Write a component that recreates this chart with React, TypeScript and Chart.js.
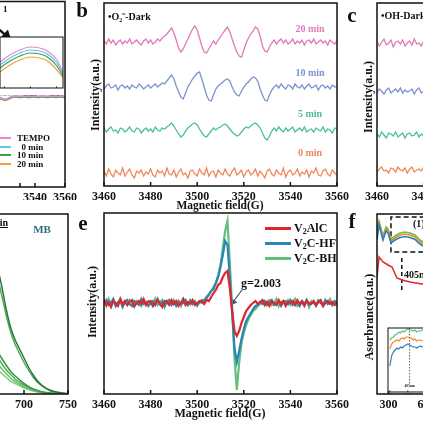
import React, { useEffect, useRef } from "react";
import { Chart, registerables } from "chart.js";

Chart.register(...registerables);

const SERIF = '"Liberation Serif", "Times New Roman", Times, serif';
const INK = "#111111";

// ---------- shared magnetic-field grid (G) ----------
const FIELD_START = 3460;
const FIELD_STEP = 1;
const FIELD_TICKS = [3460, 3480, 3500, 3520, 3540, 3560];

// ---------- (a) TEMPO signal, main spectrum (tail) ----------
const A_TICKS = [3540, 3560];
const A_MINOR_TICKS = [3530];
const A_FIELD = [3500,3502,3504,3506,3508,3510,3512,3514,3516,3518,3520,3522,3524,3526,3528,3530,3532,3534,3536,3538,3540,3542,3544,3546,3548,3550,3552,3554,3556,3558,3560];
const A_TEMPO = [93.5,93,93.5,92.5,93,93,92.5,93,92,90.5,89.5,90.5,92,93,93,92.5,93,93,92.5,93,93,92.5,93,93,92.5,93,93,92.5,93,93,92.5];
const A_0MIN = [93,92.5,93,92,92.5,92.5,92,92.5,91.5,90,89,90,91.5,92.5,92.5,92,92.5,92.5,92,92.5,92.5,92,92.5,92.5,92,92.5,92.5,92,92.5,92.5,92];
const A_10MIN = [92.5,92,92.5,91.5,92,92,91.5,92,91,89.5,88.5,89.5,91,92,92,91.5,92,92,91.5,92,92,91.5,92,92,91.5,92,92,91.5,92,92,91.5];
const A_20MIN = [92,91.5,92,91,91.5,91.5,91,91.5,90.5,89,88,89,90.5,91.5,91.5,91,91.5,91.5,91,91.5,91.5,91,91.5,91.5,91,91.5,91.5,91,91.5,91.5,91];
const A_POINTER = [{ x: 3511, y: 167 }, { x: 3521, y: 154 }];

// (a) zoomed inset
const A_ZOOM_FIELD = [3536.1, 3536.33, 3536.56, 3536.8, 3537.1, 3537.25, 3537.41, 3537.55];
const A_ZOOM_TICKS = [3536.2, 3536.8, 3537.4];
const A_ZOOM_TEMPO = [26, 33, 38, 41, 39, 35, 28, 16];
const A_ZOOM_0MIN = [23, 30, 35, 38, 36, 32, 25, 14];
const A_ZOOM_10MIN = [20, 27, 32, 35, 33, 29, 22, 12];
const A_ZOOM_20MIN = [16, 23, 28, 31, 29, 25, 18, 10];

// ---------- (b) DMPO-•O2− in the dark (deviation from baseline) ----------
const O2_20MIN = [
  1,-2,3,-1,2,-3,0,2,-2,1,
  -1,3,-2,0,2,-1,-3,1,3,-1,
  2,-2,0,3,1,4,6,8,11,14,
  9,2,-6,-10,-7,-2,3,8,13,16,
  12,4,-4,-10,-11,-7,-3,1,-2,2,
  5,9,12,15,10,3,-4,-10,-14,-15,
  -8,-1,4,8,11,15,13,6,-4,-9,
  -10,-5,-1,2,-2,1,3,-1,2,-2,
  0,3,-2,1,-1,2,-3,1,2,-1,
  3,-2,0,2,-1,1,-3,2,0,-2,1,
];
const O2_10MIN = [
  -2,1,3,-1,0,2,-3,1,2,-1,
  1,-2,2,0,-1,3,1,-2,0,2,
  -1,1,3,0,2,4,3,6,9,12,
  8,1,-5,-10,-12,-6,0,4,8,11,
  14,15,8,0,-8,-13,-14,-8,-2,1,
  3,5,7,8,6,0,-5,-8,-9,-4,
  0,3,5,8,10,9,6,-2,-8,-13,
  -14,-8,-3,0,2,-1,3,0,-2,2,
  1,-2,3,0,-1,2,-2,1,3,-1,
  0,2,-3,1,2,-1,1,-2,2,0,1,
];
const O2_5MIN = [
  2,-2,1,3,-1,0,-3,2,1,-2,
  0,3,-1,-2,2,1,-3,0,2,-1,
  1,-2,3,0,-1,2,1,3,5,7,
  4,0,-4,-7,-5,-1,2,4,6,7,
  5,1,-3,-6,-7,-4,-1,2,0,2,
  3,5,6,4,1,-2,-4,-6,-5,-2,
  1,3,2,4,6,7,5,2,-3,-8,
  -10,-6,-1,2,-1,3,0,-2,2,-1,
  1,3,-2,0,2,-1,3,-2,0,1,
  -2,2,0,-1,3,-2,1,0,-3,2,1,
];
const O2_0MIN = [
  2,-3,4,-1,-4,3,0,-2,5,-3,
  1,4,-2,-5,2,0,3,-3,1,-1,
  4,-2,-4,3,0,2,-3,5,-1,-2,
  3,-4,1,4,-2,0,-5,2,3,-1,
  -3,4,0,-2,5,-3,1,2,-4,3,
  0,-2,4,-1,-3,2,5,-2,0,3,
  -4,1,3,-2,0,4,-3,2,-1,-5,
  2,4,-1,-3,3,0,-2,5,-4,1,
  3,-2,0,4,-3,1,-1,3,-4,2,
  0,5,-2,-3,2,4,-1,-3,3,0,-2,
];
const O2_BASELINES = [144, 99, 56, 13];
const TIME_LABELS = ["20 min", "10 min", "5 min", "0 min"];
const TIME_LABEL_LEVELS = [157, 113, 71.5, 33];

// ---------- (c) DMPO-•OH in the dark ----------
const OH_20MIN = [
  2,-3,1,4,-2,0,3,-4,1,2, -1,3,-3,0,2,-2,4,-1,0,-3, 2,1,-2,3,0,-4,2,1,-1,3,
  -2,0,4,-3,1,2,-1,-2,3,0, 1,-3,2,0,-1,4,-2,1,-3,2, 0,3,-1,-2,1,4,-3,0,2,-1,
  3,-2,1,0,-4,2,3,-1,0,-2, 1,3,-3,2,0,-1,4,-2,1,-1, 2,0,-3,3,1,-2,0,2,-1,3,
  -4,1,0,2,-2,3,-1,1,-3,2, 0,
];
const OH_10MIN = [
  -1,2,0,-3,1,3,-2,0,2,-1, 3,-2,1,-1,0,2,-3,1,3,-2, 0,1,-2,3,-1,0,2,-3,1,2,
  -1,3,0,-2,1,-3,2,0,-1,3, 1,-2,2,0,-3,1,3,-1,0,-2, 2,-1,1,3,-2,0,-1,2,-3,1,
  0,3,-2,1,2,-1,-3,2,0,1, -2,1,3,-1,0,-3,2,1,-1,2, 3,-2,0,1,-1,2,-3,0,2,-1,
  1,-3,2,0,3,-1,-2,1,0,2, -1,
];
const OH_5MIN = [
  1,-2,3,0,-3,2,1,-1,3,-2, 0,2,-3,1,2,-1,0,3,-2,1, -1,2,0,-3,3,1,-2,0,2,-1,
  3,-2,1,0,-1,2,-3,1,0,2, -2,3,-1,0,2,-3,1,2,-1,0, 2,-1,3,-2,0,1,-3,2,1,-1,
  0,-2,2,3,-1,0,-3,1,2,-2, 1,0,-2,3,-1,2,0,-3,1,2, -1,3,-2,0,1,-1,2,-3,0,3,
  -2,1,0,2,-3,1,3,-1,0,-2, 1,
];
const OH_0MIN = [
  -2,1,3,-1,0,-3,2,1,-2,3, 0,-1,2,-3,1,3,-2,0,1,-1, 3,-2,0,2,-1,-3,1,2,0,-2,
  1,3,-1,0,-2,2,-3,1,3,-1, 0,-2,2,1,-3,0,2,-1,3,-2, 1,0,-3,2,-1,3,0,-2,1,2,
  -1,2,-3,0,3,-2,1,0,-1,2, 3,-1,0,-2,2,1,-3,2,0,-1, -2,3,1,-1,0,2,-3,1,-2,0,
  2,-1,3,-2,0,1,-1,2,-3,1, 0,
];
const OH_BASELINES = [143, 95, 51, 16];

// ---------- (d) MB absorption spectra ----------
const D_WAVE = [660,665,670,675,680,685,690,695,700,705,710,715,720,725,730,735,740,745,750];
const D_TICKS = [500, 550, 600, 650, 700, 750];
const D_SPECTRA = [
  [0.92,0.93,0.84,0.71,0.56,0.44,0.36,0.30,0.24,0.18,0.13,0.09,0.06,0.04,0.025,0.015,0.01,0.005,0.003],
  [0.84,0.85,0.77,0.65,0.52,0.41,0.33,0.27,0.21,0.16,0.115,0.08,0.055,0.035,0.02,0.013,0.008,0.004,0.002],
  [0.30,0.31,0.28,0.235,0.19,0.15,0.12,0.095,0.07,0.05,0.035,0.025,0.015,0.01,0.006,0.004,0.002,0.001,0.001],
  [0.26,0.27,0.245,0.20,0.16,0.13,0.10,0.08,0.06,0.045,0.03,0.02,0.013,0.008,0.005,0.003,0.002,0.001,0.001],
  [0.21,0.22,0.20,0.165,0.135,0.105,0.085,0.065,0.05,0.036,0.025,0.017,0.011,0.007,0.004,0.002,0.001,0.001,0],
  [0.17,0.18,0.16,0.135,0.11,0.085,0.07,0.055,0.04,0.03,0.02,0.014,0.009,0.006,0.003,0.002,0.001,0,0],
];
const D_COLORS = ["#24743a", "#49a852", "#3d9a4f", "#58b35e", "#6cc46b", "#84d27c"];

// ---------- (e) EPR of the three vanadium samples ----------
const E_V2ALC = [
  3,-2,1,-4,2,0,-3,4,-1,2, -2,1,3,-3,0,2,-1,4,-2,1, 2,-3,0,3,-1,-4,2,1,-2,3,
  -1,2,-3,0,4,-2,1,-1,3,-2, 0,2,1,-1,3,2,6,10,13,18, 20,26,30,32,15,-8,-28,-33,-28,-20,
  -14,-8,-5,-2,0,2,-1,1,3,-2, 1,-3,2,0,-2,3,-1,2,-3,1, 0,2,-2,3,-1,1,-3,2,0,-1,
  2,-2,1,3,-3,0,2,-1,1,-2,0,
];
const E_V2C_HF = [
  -1,3,-2,0,4,-3,1,2,-4,1, 3,-1,-3,2,0,-2,4,-1,1,-3, 0,2,-2,4,-1,1,-3,2,3,-2,
  1,-3,2,-1,0,3,-2,2,-1,1, -2,1,3,2,5,8,12,14,20,26, 36,48,62,58,25,-10,-45,-59,-48,-36,
  -26,-18,-14,-10,-6,-3,-2,1,-1,2, -2,1,3,-2,0,2,-3,1,2,-1, 3,-2,0,1,-3,2,-1,3,-2,0,
  1,-3,2,0,-2,3,-1,1,-2,2,0,
];
const E_V2C_BH = [
  2,-3,4,-1,3,-2,0,4,-3,1, -2,3,0,-4,2,1,-3,3,-1,2, 0,-3,4,-2,1,3,-4,2,0,-1,
  3,-2,1,-3,4,0,-2,3,-1,2, -3,1,0,3,6,9,12,16,20,28, 38,55,72,82,40,-5,-55,-87,-60,-40,
  -30,-22,-16,-12,-8,-6,-3,-1,2,-2, 1,3,-2,0,4,-3,1,2,-1,3, -2,1,4,-3,0,2,-1,3,-4,2,
  0,-2,3,1,-3,2,0,4,-2,1,-1,
];
const E_G_POINTER = [{ x: 3519.2, y: 13 }, { x: 3515.4, y: 1 }];

// ---------- (f) UV-vis absorbance ----------
const F_TICKS = [300, 600, 900, 1200, 1500];
const F_WAVE = [210, 226, 241, 257, 281, 297, 320, 352, 391, 430, 470, 509, 548, 572];
const F_GREEN = [1.64,1.73,1.66,1.58,1.67,1.65,1.55,1.58,1.61,1.62,1.61,1.59,1.54,1.52];
const F_ORANGE = [1.61,1.71,1.64,1.56,1.65,1.63,1.53,1.56,1.59,1.60,1.59,1.57,1.52,1.50];
const F_BLUE = [1.54,1.69,1.62,1.54,1.63,1.61,1.51,1.54,1.565,1.575,1.565,1.545,1.50,1.48];
const F_RED_WAVE = [210, 226, 257, 297, 328, 367, 407, 470, 564, 611];
const F_RED = [1.16, 1.37, 1.32, 1.29, 1.27, 1.16, 1.14, 1.12, 1.10, 1.09];
const F_ZOOM_BOX = [{ x: 900, y: 1.77 }, { x: 320, y: 1.77 }, { x: 320, y: 1.42 }, { x: 900, y: 1.42 }];
const F_PEAK_NM = 405;
const F_PEAK_SPAN = [1.36, 1.04];

// (f) inset
const F_ZOOM_WAVE = [350,355,360,365,370,375,380,385,390,395,400,405,410,415,420,425,430,435,440,445];
const F_ZOOM_TICKS = [350, 400, 450, 500, 550];
const F_ZOOM_GREEN = [52,54,55,57,58,60,59,61,60,62,63,62,62,61,62,60,61,61,62,61];
const F_ZOOM_ORANGE = [43,48,50,51,52,51,53,54,53,55,55,54,54,52,53,51,52,52,51,51];
const F_ZOOM_BLUE = [26,36,40,42,44,43,45,44,46,47,48,47,46,45,45,44,45,46,45,45];

// ---------- colours ----------
const PINK = "#e07ab9";
const BLUE = "#7b93cf";
const GREEN = "#4dbf94";
const ORANGE = "#f2875a";
const TRACE_COLORS = [PINK, BLUE, GREEN, ORANGE];

const onField = (vals: number[], base = 0) =>
  vals.map((v, i) => ({ x: FIELD_START + i * FIELD_STEP, y: base + v }));
const zip = (xs: number[], ys: number[]) => xs.map((x, i) => ({ x, y: ys[i] }));

const line = (data: any[], color: string, width = 1.3, extra: any = {}) => ({
  data,
  borderColor: color,
  backgroundColor: color,
  borderWidth: width,
  pointRadius: 0,
  fill: false,
  tension: 0,
  ...extra,
});

type Note = { x: number; y: number; text: string; color?: string; size?: number; align?: CanvasTextAlign };

type PanelSpec = {
  box: { left: number; top: number; width: number; height: number };
  pad: { left: number; right: number; top: number; axis: number };
  x: {
    min: number;
    max: number;
    ticks: number[];
    minor?: number[];
    size?: number;
    weight?: string;
    pad?: number;
    digits?: number;
  };
  y: { min: number; max: number };
  datasets: any[];
  notes?: Note[];
  fill?: string;
  frame?: number;
  tickLen?: number;
};

function framePlugin(spec: PanelSpec) {
  return {
    id: "panelFrame",
    beforeDatasetsDraw(chart: any) {
      if (!spec.fill) return;
      const { ctx, chartArea: a } = chart;
      ctx.save();
      ctx.fillStyle = spec.fill;
      ctx.fillRect(a.left, a.top, a.right - a.left, a.bottom - a.top);
      ctx.restore();
    },
    afterDatasetsDraw(chart: any) {
      const { ctx, chartArea: a, scales } = chart;
      const xs = scales.x;
      const ys = scales.y;
      ctx.save();
      for (const n of spec.notes || []) {
        ctx.font = `bold ${n.size || 10}px ${SERIF}`;
        ctx.fillStyle = n.color || INK;
        ctx.textAlign = n.align || "center";
        ctx.textBaseline = "middle";
        ctx.fillText(n.text, xs.getPixelForValue(n.x), ys.getPixelForValue(n.y));
      }
      ctx.strokeStyle = INK;
      ctx.lineWidth = spec.frame ?? 1.5;
      ctx.strokeRect(a.left, a.top, a.right - a.left, a.bottom - a.top);
      const len = spec.tickLen ?? 4;
      const marks = [...xs.ticks.map((t: any) => t.value), ...(spec.x.minor || [])];
      for (const v of marks) {
        const px = xs.getPixelForValue(v);
        ctx.beginPath();
        ctx.moveTo(px, a.bottom);
        ctx.lineTo(px, a.bottom - len);
        ctx.stroke();
      }
      ctx.restore();
    },
  };
}

function Panel({ spec }: { spec: PanelSpec }) {
  const ref = useRef<HTMLCanvasElement>(null);
  useEffect(() => {
    const canvas = ref.current;
    if (!canvas) return;
    const digits = spec.x.digits ?? 0;
    const chart = new Chart(canvas, {
      type: "line",
      data: { datasets: spec.datasets },
      options: {
        animation: false,
        responsive: false,
        maintainAspectRatio: false,
        devicePixelRatio: 1,
        events: [],
        layout: { padding: { left: spec.pad.left, right: spec.pad.right, top: spec.pad.top, bottom: 0 } },
        plugins: { legend: { display: false }, tooltip: { enabled: false } },
        scales: {
          x: {
            type: "linear",
            min: spec.x.min,
            max: spec.x.max,
            grid: { display: false },
            border: { display: false },
            ticks: {
              color: INK,
              padding: spec.x.pad ?? -4,
              maxRotation: 0,
              autoSkip: false,
              font: { family: SERIF, size: spec.x.size ?? 12, weight: (spec.x.weight ?? "bold") as any },
              callback: (v: any) => Number(v).toFixed(digits),
            },
            afterBuildTicks: (s: any) => {
              s.ticks = spec.x.ticks.map((value) => ({ value }));
            },
            afterFit: (s: any) => {
              s.height = spec.pad.axis;
              s.paddingLeft = 0;
              s.paddingRight = 0;
            },
          },
          y: { type: "linear", display: false, min: spec.y.min, max: spec.y.max },
        },
      },
      plugins: [framePlugin(spec)],
    } as any);
    return () => chart.destroy();
  }, [spec]);
  const b = spec.box;
  return (
    <canvas
      ref={ref}
      width={b.width}
      height={b.height}
      style={{ position: "absolute", left: b.left, top: b.top, width: b.width, height: b.height }}
    />
  );
}

// ---------- panel specifications ----------
const PANEL_A: PanelSpec = {
  box: { left: -100, top: -5, width: 180, height: 205 },
  pad: { left: 15, right: 15, top: 3, axis: 13 },
  x: { min: 3460, max: 3560, ticks: A_TICKS, minor: A_MINOR_TICKS },
  y: { min: 0, max: 189 },
  datasets: [
    line(zip(A_FIELD, A_TEMPO), "#e58ad3", 1.4),
    line(zip(A_FIELD, A_0MIN), "#5ec6e6", 1.4),
    line(zip(A_FIELD, A_10MIN), "#3c9e4c", 1.4),
    line(zip(A_FIELD, A_20MIN), "#e9a43c", 1.4),
    line(A_POINTER, INK, 2.5, { pointRadius: [0, 4], pointStyle: "triangle", rotation: 133 }),
  ],
};

const PANEL_A_ZOOM: PanelSpec = {
  box: { left: -10, top: 30, width: 80, height: 66 },
  pad: { left: 10, right: 7, top: 7, axis: 8 },
  x: { min: 3536.1, max: 3537.55, ticks: A_ZOOM_TICKS, size: 4.5, weight: "normal", pad: -1.5, digits: 1 },
  y: { min: 0, max: 51 },
  fill: "#ffffff",
  frame: 1,
  tickLen: 1.5,
  datasets: [
    line(zip(A_ZOOM_FIELD, A_ZOOM_TEMPO), "#e58ad3", 1.2, { cubicInterpolationMode: "monotone" }),
    line(zip(A_ZOOM_FIELD, A_ZOOM_0MIN), "#5ec6e6", 1.2, { cubicInterpolationMode: "monotone" }),
    line(zip(A_ZOOM_FIELD, A_ZOOM_10MIN), "#3c9e4c", 1.2, { cubicInterpolationMode: "monotone" }),
    line(zip(A_ZOOM_FIELD, A_ZOOM_20MIN), "#e9a43c", 1.2, { cubicInterpolationMode: "monotone" }),
  ],
};

const PANEL_B: PanelSpec = {
  box: { left: 60, top: 0, width: 300, height: 200 },
  pad: { left: 44, right: 23, top: 3, axis: 14 },
  x: { min: 3460, max: 3560, ticks: FIELD_TICKS },
  y: { min: 0, max: 183 },
  datasets: [O2_20MIN, O2_10MIN, O2_5MIN, O2_0MIN].map((vals, i) =>
    line(onField(vals, O2_BASELINES[i]), TRACE_COLORS[i], 1.3)
  ),
  notes: [
    { x: 3461.7, y: 169, text: "•O\u2082\u207B-Dark", size: 10, align: "left" },
    ...TIME_LABELS.map((text, i) => ({ x: 3548.4, y: TIME_LABEL_LEVELS[i], text, color: TRACE_COLORS[i], size: 10 })),
  ],
};

const PANEL_C: PanelSpec = {
  box: { left: 340, top: 0, width: 300, height: 200 },
  pad: { left: 37, right: 30, top: 3, axis: 14 },
  x: { min: 3460, max: 3560, ticks: FIELD_TICKS },
  y: { min: 0, max: 183 },
  datasets: [OH_20MIN, OH_10MIN, OH_5MIN, OH_0MIN].map((vals, i) =>
    line(onField(vals, OH_BASELINES[i]), TRACE_COLORS[i], 1.3)
  ),
  notes: [{ x: 3461.7, y: 170, text: "•OH-Dark", size: 10, align: "left" }],
};

const PANEL_D: PanelSpec = {
  box: { left: -170, top: 200, width: 250, height: 210 },
  pad: { left: 18, right: 12, top: 14, axis: 16 },
  x: { min: 500, max: 750, ticks: D_TICKS },
  y: { min: 0, max: 1.2 },
  datasets: D_SPECTRA.map((vals, i) =>
    line(zip(D_WAVE, vals), D_COLORS[i], i < 2 ? 1.4 : 1.6, { cubicInterpolationMode: "monotone" })
  ),
  notes: [{ x: 720.5, y: 1.094, text: "MB", color: "#2c6e7c", size: 11 }],
};

const PANEL_E: PanelSpec = {
  box: { left: 60, top: 200, width: 300, height: 210 },
  pad: { left: 44, right: 23, top: 13, axis: 16 },
  x: { min: 3460, max: 3560, ticks: FIELD_TICKS },
  y: { min: -91, max: 90 },
  datasets: [
    line(onField(E_V2ALC), "#e0262a", 2.2),
    line(onField(E_V2C_HF), "#2c84b6", 2.2),
    line(onField(E_V2C_BH), "#5fbf7d", 2.2),
    line(E_G_POINTER, "#3e5078", 1.2, { pointRadius: [0, 3], pointStyle: "triangle", rotation: 217 }),
  ],
  notes: [{ x: 3527.4, y: 19, text: "g=2.003", size: 12 }],
};

const PANEL_F: PanelSpec = {
  box: { left: 340, top: 200, width: 240, height: 210 },
  pad: { left: 37, right: 20, top: 14, axis: 16 },
  x: { min: 210, max: 1650, ticks: F_TICKS },
  y: { min: 0, max: 1.8 },
  datasets: [
    line(zip(F_RED_WAVE, F_RED), "#e0262a", 1.5),
    line(zip(F_WAVE, F_BLUE), "#2f7fc0", 1.6),
    line(zip(F_WAVE, F_ORANGE), "#f08a24", 1.6),
    line(zip(F_WAVE, F_GREEN), "#6cbf4e", 1.6),
    line(F_ZOOM_BOX, INK, 1.5, { borderDash: [5, 3] }),
    line(F_PEAK_SPAN.map((y) => ({ x: F_PEAK_NM, y })), INK, 1.5, { borderDash: [4, 3] }),
  ],
  notes: [
    { x: 493, y: 1.7, text: "(1)", size: 10, align: "left" },
    { x: 422, y: 1.19, text: "405nm", size: 10, align: "left" },
  ],
};

const PANEL_F_ZOOM: PanelSpec = {
  box: { left: 380, top: 320, width: 110, height: 74 },
  pad: { left: 8, right: 12, top: 8, axis: 2 },
  x: { min: 345, max: 595, ticks: F_ZOOM_TICKS, size: 4, weight: "normal", pad: -7.5 },
  y: { min: 0, max: 64 },
  fill: "#ffffff",
  frame: 1,
  tickLen: 1.5,
  datasets: [
    line(zip(F_ZOOM_WAVE, F_ZOOM_GREEN), "#5cbf7a", 1.2),
    line(zip(F_ZOOM_WAVE, F_ZOOM_ORANGE), "#f08a24", 1.2),
    line(zip(F_ZOOM_WAVE, F_ZOOM_BLUE), "#2f7fc0", 1.2),
    line([{ x: F_PEAK_NM, y: 64 }, { x: F_PEAK_NM, y: 8 }], "#333333", 0.8, { borderDash: [1.5, 1.5] }),
  ],
  notes: [{ x: F_PEAK_NM, y: 5.5, text: "405nm", size: 3.5 }],
};

// ---------- HTML text helpers ----------
function Txt({ x, y, size, children, rotate, color, align = "center", underline }: any) {
  const tx = align === "center" ? "-50%" : align === "right" ? "-100%" : "0";
  return (
    <div
      style={{
        position: "absolute",
        left: x,
        top: y,
        fontFamily: SERIF,
        fontWeight: 700,
        fontSize: size,
        lineHeight: 1,
        color: color ?? INK,
        whiteSpace: "nowrap",
        textDecoration: underline ? "underline" : undefined,
        transform: `translate(${tx}, -50%)${rotate ? ` rotate(${rotate}deg)` : ""}`,
      }}
    >
      {children}
    </div>
  );
}

function Swatch({ x1, x2, y, color, width }: any) {
  return (
    <div
      style={{ position: "absolute", left: x1, top: y - width / 2, width: x2 - x1, height: width, background: color }}
    />
  );
}

const A_LEGEND = [
  { label: "TEMPO", color: "#e58ad3", y: 137.5, indent: 0 },
  { label: "0 min", color: "#5ec6e6", y: 146.5, indent: 4.5 },
  { label: "10 min", color: "#3c9e4c", y: 155, indent: 0 },
  { label: "20 min", color: "#e9a43c", y: 163.5, indent: 0 },
];

const E_LEGEND = [
  { sub: ["V", "2", "AlC"], color: "#e0262a", y: 228.5 },
  { sub: ["V", "2", "C-HF"], color: "#2c84b6", y: 243.5 },
  { sub: ["V", "2", "C-BH"], color: "#5fbf7d", y: 258.5 },
];

export default function App() {
  return (
    <div
      style={{
        position: "fixed",
        left: 0,
        top: 0,
        width: 423,
        height: 423,
        overflow: "hidden",
        background: "#ffffff",
      }}
    >
      <Panel spec={PANEL_A} />
      <Panel spec={PANEL_A_ZOOM} />
      <Panel spec={PANEL_B} />
      <Panel spec={PANEL_C} />
      <Panel spec={PANEL_D} />
      <Panel spec={PANEL_E} />
      <Panel spec={PANEL_F} />
      <Panel spec={PANEL_F_ZOOM} />

      {/* panel a */}
      <Txt x={3} y={9} size={9} align="left">1</Txt>
      {A_LEGEND.map((it) => (
        <React.Fragment key={it.label}>
          <Swatch x1={0} x2={11} y={it.y} color={it.color} width={2} />
          <Txt x={17 + it.indent} y={it.y} size={9} align="left">{it.label}</Txt>
        </React.Fragment>
      ))}

      {/* panel letters */}
      <Txt x={82} y={10} size={21}>b</Txt>
      <Txt x={352} y={15} size={21}>c</Txt>
      <Txt x={83} y={223} size={21}>e</Txt>
      <Txt x={352} y={221} size={21}>f</Txt>

      {/* axis titles */}
      <Txt x={95} y={95} size={12} rotate={-90}>Intensity(a.u.)</Txt>
      <Txt x={368} y={97} size={12} rotate={-90}>Intensity(a.u.)</Txt>
      <Txt x={92} y={302} size={12} rotate={-90}>Intensity(a.u.)</Txt>
      <Txt x={369} y={317} size={12} rotate={-90}>Asorbrance(a.u.)</Txt>
      <Txt x={220} y={206} size={11.5}>Magnetic field(G)</Txt>
      <Txt x={220} y={413} size={12}>Magnetic field(G)</Txt>

      {/* panel d */}
      <Txt x={8} y={223} size={10} align="right" underline>min</Txt>

      {/* panel e legend */}
      {E_LEGEND.map((it) => (
        <React.Fragment key={it.sub.join("")}>
          <Swatch x1={265} x2={291} y={it.y} color={it.color} width={2.5} />
          <Txt x={294} y={it.y} size={12} align="left">
            {it.sub[0]}
            <sub style={{ fontSize: 8, verticalAlign: "-2px" }}>{it.sub[1]}</sub>
            {it.sub[2]}
          </Txt>
        </React.Fragment>
      ))}
    </div>
  );
}
